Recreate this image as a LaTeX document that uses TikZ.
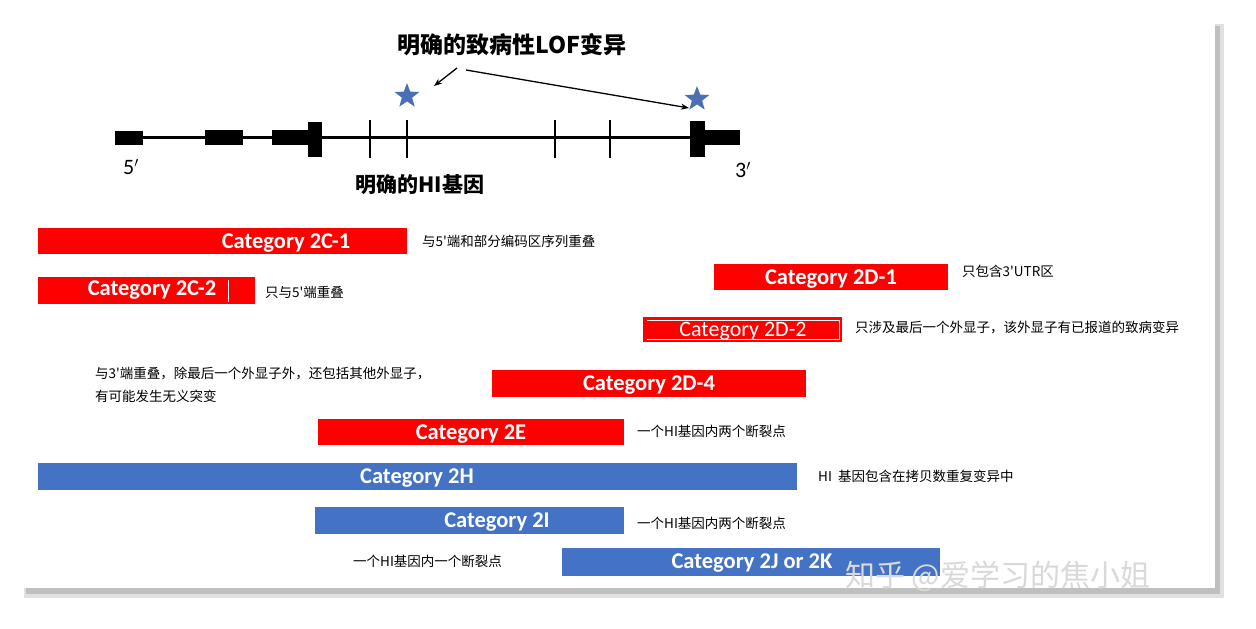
\documentclass[tikz,border=0pt]{standalone}
\usepackage{fontspec}
\setmainfont{Carlito}
\newfontfamily\cjk{Noto Sans CJK SC}
\usetikzlibrary{shapes.geometric,arrows.meta}
\definecolor{bred}{HTML}{FF0000}
\definecolor{bblue}{HTML}{4472C4}
\definecolor{sblue}{HTML}{4A6FB5}
\begin{document}
\begin{tikzpicture}[x=1pt,y=-1pt,
  bar/.style={inner sep=0pt,font=\bfseries\fontsize{22.5}{22}\selectfont,text=white},
  note/.style={anchor=west,inner sep=0pt,font=\cjk\fontsize{13.5}{15}\selectfont},
  str/.style={star,star points=5,star point ratio=2.4,fill=sblue,minimum size=26pt,inner sep=0pt}]
\useasboundingbox (0,0) rectangle (1256,629);
\fill[white] (0,0) rectangle (1256,629);
\fill[black!12] (24,24) rectangle (1224,598);
\fill[black!25] (26,26) rectangle (1220,594);
\fill[white] (20,20) rectangle (1215,588);
% gene
\draw[line width=3pt] (115,137) -- (740,137);
\fill (115,131) rectangle (143,145);
\fill (205,130) rectangle (243,145);
\fill (272,130) rectangle (308,145);
\fill (308,122) rectangle (322,157);
\fill (690,121) rectangle (705,157);
\fill (705,130) rectangle (740,145);
\foreach \x in {370,407,555,610} \draw[line width=2pt] (\x,120) -- (\x,158);
\node[str] (s1) at (407,96) {};
\node[str] (s2) at (697,99) {};
\node[font=\cjk\bfseries\fontsize{23}{23}\selectfont] (t1) at (512,45) {明确的致病性LOF变异};
\coordinate (a1) at (457,68); \coordinate (a2) at (434,86);
\coordinate (b1) at (466,70); \coordinate (b2) at (689,108);
\draw[-{Stealth[length=8pt]},line width=1.3pt] (a1) -- (a2);
\draw[-{Stealth[length=8pt]},line width=1.3pt] (b1) -- (b2);
\node[font=\fontsize{22}{22}\selectfont] (p5) at (131,167) {5$'$};
\node[font=\fontsize{22}{22}\selectfont] (p3) at (743,170) {3$'$};
\node[font=\cjk\bfseries\fontsize{21}{21}\selectfont] (t2) at (420,185) {明确的HI基因};
% bars
\fill[bred] (38,228) rectangle (407,254); \node[bar] (c1) at (286,243) {Category 2C-1};
\node[note] at (422,241) {与5'端和部分编码区序列重叠};
\fill[bred] (38,277) rectangle (255,304); \draw[white,line width=1pt] (228,280) -- (228,302);
\node[bar] (c2) at (152,290) {Category 2C-2};
\node[note] at (265,292) {只与5'端重叠};
\fill[bred] (714,264) rectangle (948,290); \node[bar] (d1) at (831,279) {Category 2D-1};
\node[note] at (962,271) {只包含3'UTR区};
\fill[bred] (643,317) rectangle (842,342); \draw[white,line width=0.8pt] (647,320) -- (839,320) -- (839,339) -- (647,339);
\node[font=\fontsize{22}{22}\selectfont,text=white,inner sep=0pt] (d2) at (743,331) {Category 2D-2};
\node[note] at (855,327) {只涉及最后一个外显子，该外显子有已报道的致病变异};
\node[note] at (95,374) {与3'端重叠，除最后一个外显子外，还包括其他外显子，};
\node[note] at (95,396) {有可能发生无义突变};
\fill[bred] (492,370) rectangle (806,397); \node[bar] (d4) at (649,385) {Category 2D-4};
\fill[bred] (318,419) rectangle (624,445); \node[bar] (e) at (471,434) {Category 2E};
\node[note] at (637,431) {一个HI基因内两个断裂点};
\fill[bblue] (38,463) rectangle (797,490); \node[bar] (h) at (417,478) {Category 2H};
\node[note] at (818,476) {HI\ \ 基因包含在拷贝数重复变异中};
\fill[bblue] (315,507) rectangle (624,534); \node[bar] (i) at (497,522) {Category 2I};
\node[note] at (637,523) {一个HI基因内两个断裂点};
\fill[bblue] (562,548) rectangle (940,576); \node[bar] (j) at (752,563) {Category 2J or 2K};
\node[note] at (353,561) {一个HI基因内一个断裂点};
\node[anchor=west,inner sep=0pt,text=black!15,font=\cjk\fontsize{30}{30}\selectfont] (wm) at (845,576) {知乎 @爱学习的焦小姐};
\end{tikzpicture}
\end{document}
